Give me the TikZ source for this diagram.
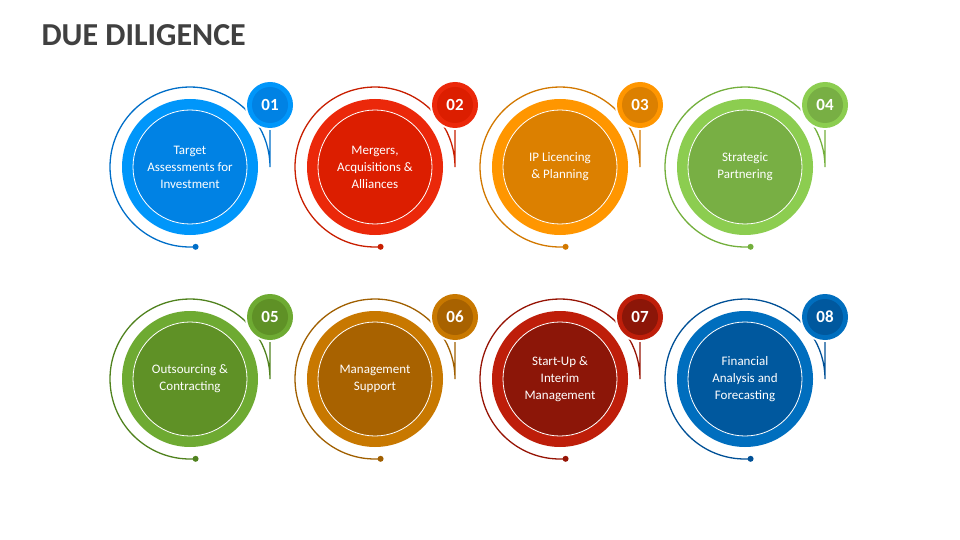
\documentclass[tikz,border=0pt]{standalone}
\usepackage{fontspec}
\setmainfont{Carlito}
\begin{document}
\begin{tikzpicture}[x=1pt,y=-1pt,
  lbl/.style={text=white,align=center,font=\fontsize{13}{17}\selectfont},
  num/.style={text=white,font=\bfseries\fontsize{17}{17}\selectfont}]
\useasboundingbox (0,0) rectangle (960,540);
\node[anchor=west,text=black!75,font=\bfseries\fontsize{32}{32}\selectfont] (title) at (38,35) {DUE DILIGENCE};
\newcommand\ddstep[9]{%
  \begin{scope}[shift={(#1,#2)}]
  \coordinate (s#8) at (0,0);
  \draw[#5,line width=1.3pt] (86:80) arc[start angle=86,end angle=360,radius=80] -- (80,-62);
  \fill[#5] (86:80) circle (3);
  \fill[#3] (0,0) circle (68);
  \fill[#4] (0,0) circle (57);
  \draw[white,line width=0.8pt] (0,0) circle (57);
  \fill[white] (80,-62) circle (25);
  \fill[#6] (80,-62) circle (23);
  \fill[#7] (80,-62) circle (18);
  \node[num] (b#8) at (80,-62) {#8};
  \node[lbl] (t#8) at (0,0) {#9};
  \end{scope}}
\definecolor{c1a}{RGB}{0,150,250}\definecolor{c1b}{RGB}{0,130,228}\definecolor{c1c}{RGB}{0,110,200}
\definecolor{c2a}{RGB}{235,40,10}\definecolor{c2b}{RGB}{220,30,0}\definecolor{c2c}{RGB}{200,30,0}
\definecolor{c3a}{RGB}{255,150,0}\definecolor{c3b}{RGB}{220,128,0}\definecolor{c3c}{RGB}{210,120,0}
\definecolor{c4a}{RGB}{140,205,80}\definecolor{c4b}{RGB}{120,175,68}\definecolor{c4c}{RGB}{115,175,60}
\definecolor{c5a}{RGB}{110,170,50}\definecolor{c5b}{RGB}{95,145,38}\definecolor{c5c}{RGB}{80,130,30}
\definecolor{c6a}{RGB}{200,120,0}\definecolor{c6b}{RGB}{168,98,0}\definecolor{c6c}{RGB}{160,95,0}
\definecolor{c7a}{RGB}{190,30,10}\definecolor{c7b}{RGB}{140,22,8}\definecolor{c7c}{RGB}{150,20,5}
\definecolor{c8a}{RGB}{0,110,190}\definecolor{c8b}{RGB}{0,88,158}\definecolor{c8c}{RGB}{0,80,150}
\ddstep{190}{167}{c1a}{c1b}{c1c}{c1a}{c1b}{01}{Target\\Assessments for\\Investment}
\ddstep{375}{167}{c2a}{c2b}{c2c}{c2a}{c2b}{02}{Mergers,\\Acquisitions \&\\Alliances}
\ddstep{560}{167}{c3a}{c3b}{c3c}{c3a}{c3b}{03}{IP Licencing\\\& Planning}
\ddstep{745}{167}{c4a}{c4b}{c4c}{c4a}{c4b}{04}{Strategic\\Partnering}
\ddstep{190}{379}{c5a}{c5b}{c5c}{c5a}{c5b}{05}{Outsourcing \&\\Contracting}
\ddstep{375}{379}{c6a}{c6b}{c6c}{c6a}{c6b}{06}{Management\\Support}
\ddstep{560}{379}{c7a}{c7b}{c7c}{c7a}{c7b}{07}{Start-Up \&\\Interim\\Management}
\ddstep{745}{379}{c8a}{c8b}{c8c}{c8a}{c8b}{08}{Financial\\Analysis and\\Forecasting}
\end{tikzpicture}
\end{document}
